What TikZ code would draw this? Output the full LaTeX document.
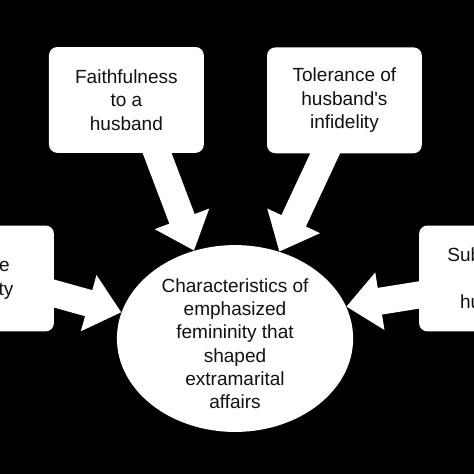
\documentclass[tikz,border=0pt]{standalone}
\usepackage{fontspec}
\usetikzlibrary{arrows.meta,positioning,shapes.geometric,calc}
\newfontfamily\traitfont{Liberation Sans}
\definecolor{smback}{HTML}{000000}
\definecolor{smfill}{HTML}{FFFFFF}
\definecolor{smtext}{HTML}{111111}

\tikzset{
  trait/.style={fill=smfill, rounded corners=6pt, minimum width=3.92cm,
    minimum height=2.68cm, inner sep=2pt, align=center, text=smtext,
    font=\traitfont\fontsize{13.7}{16.8}\selectfont},
  hub/.style={ellipse, fill=smfill, minimum width=5.98cm, minimum height=4.73cm,
    inner sep=0pt},
  hubtext/.style={inner sep=0pt, align=center, text=smtext,
    font=\traitfont\fontsize{13.7}{16.8}\selectfont},
  blockarrow/.style={smfill, line width=0.684cm, shorten <=-0.4cm,
    -{Triangle[length=0.86cm,width=1.42cm]}}
}

\begin{document}
\begin{tikzpicture}

  % ---- Background ---------------------------------------------
  \fill[smback] (0,0) rectangle (12,12);
  \useasboundingbox (0,0) rectangle (12,12);
  \clip (0,0) rectangle (12,12);

  % ---- Centre ellipse -----------------------------------------
  \node[hub] (hub) at (5.95,3.43) {};
  \node[hubtext] (hubtext) at ($(hub.center)+(0,-0.13)$)
    {Characteristics of\\emphasized\\femininity that\\shaped\\extramarital\\affairs};

  % ---- Surrounding traits -------------------------------------
  \node[trait] (faith) at (3.20,9.47) {Faithfulness\\to a\\husband};
  \node[trait] (toler) at (8.72,9.46) {Tolerance of\\husband's\\infidelity};
  \node[trait] (passive) at (-0.595,4.95) {Passive\\sexuality};
  \node[trait] (submit) at (12.57,4.95) {Submission\\to a\\husband};

  % ---- Block arrows into the centre ---------------------------
  \draw[blockarrow] (faith.-60) -- (hub.115);
  \draw[blockarrow] (toler.-110) -- (hub.63);
  \draw[blockarrow] (passive.-11) -- (hub.167);
  \draw[blockarrow] (submit.192) -- (hub.16);

\end{tikzpicture}
\end{document}
